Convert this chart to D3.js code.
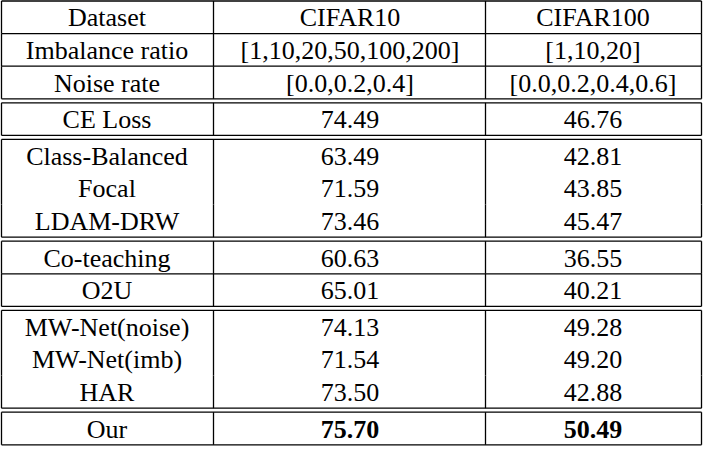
<!DOCTYPE html><html><head><script src="https://d3js.org/d3.v7.min.js"></script>
<style>body{margin:0;background:#fff}</style></head><body><svg id="c" width="703" height="450"></svg>
<script>
const columns=["Dataset","CIFAR10","CIFAR100"];
const headerRows=[["Imbalance ratio","[1,10,20,50,100,200]","[1,10,20]"],["Noise rate","[0.0,0.2,0.4]","[0.0,0.2,0.4,0.6]"]];
const methods=["CE Loss","Class-Balanced","Focal","LDAM-DRW","Co-teaching","O2U","MW-Net(noise)","MW-Net(imb)","HAR","Our"];
const cifar10=["74.49","63.49","71.59","73.46","60.63","65.01","74.13","71.54","73.50","75.70"];
const cifar100=["46.76","42.81","43.85","45.47","36.55","40.21","49.28","49.20","42.88","50.49"];
const groups=[0,0,0,1,2,2,2,3,3,4,4,4,5];
const ruledRows=[0,1,7];
const rows=[columns,...headerRows,...methods.map((m,i)=>[m,cifar10[i],cifar100[i]])];
const isBold=r=>r===rows.length-1;
const svg=d3.select("#c");
const rowH=32.6,gap=4,top0=1;
const yTop=i=>top0+i*rowH+groups[i]*gap;
const x=d3.scaleOrdinal().domain([0,1,2,3]).range([1.5,213.5,485.5,701.5]);
const cx=[107,350,593];
const ln=(x1,y1,x2,y2)=>svg.append("line").attr("x1",x1).attr("y1",y1).attr("x2",x2).attr("y2",y2).attr("stroke","#000").attr("stroke-width",1.3);
rows.forEach((r,i)=>{
  const y0=yTop(i),y1=y0+rowH;
  [0,1,2,3].forEach(k=>ln(x(k),y0,x(k),y1));
  r.forEach((t,k)=>svg.append("text").attr("x",cx[k]).attr("y",y0+rowH/2+9).attr("text-anchor","middle")
    .attr("font-family","Liberation Serif").attr("font-size",26).attr("font-weight",isBold(i)&&k>0?"bold":"normal").text(t));
  const newGroup=i===0||groups[i]!==groups[i-1];
  if(newGroup){ ln(x(0),y0,x(3),y0); if(i>0) ln(x(0),y0-gap,x(3),y0-gap);}
  if(ruledRows.includes(i)) ln(x(0),y1,x(3),y1);
  if(i===rows.length-1) ln(x(0),y1,x(3),y1);
});
</script></body></html>
